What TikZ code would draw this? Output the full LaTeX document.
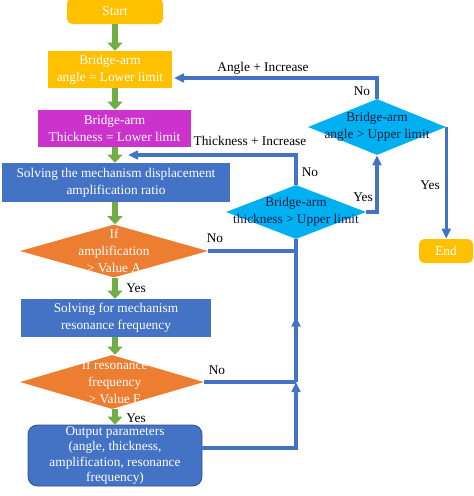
\documentclass[tikz,border=0pt]{standalone}
\usepackage{fontspec}
\setmainfont{Liberation Serif}
\usetikzlibrary{shapes.geometric,arrows.meta,calc}

\definecolor{startyellow}{HTML}{FFC000}
\definecolor{limitpink}{HTML}{CC33CC}
\definecolor{stepblue}{HTML}{4472C4}
\definecolor{testorange}{HTML}{ED7D31}
\definecolor{testcyan}{HTML}{00B0F0}
\definecolor{flowgreen}{HTML}{70AD47}
\definecolor{edgeblue}{HTML}{2F528F}
\definecolor{darktext}{RGB}{20,30,70}

\tikzset{
    base/.style={inner sep=0pt, align=center, font=\fontsize{10}{12.75}\selectfont},
    procbox/.style={base, rectangle, fill=#1, text=white},
    termbox/.style={procbox=#1, rounded corners=4pt},
    decbox/.style={diamond, fill=#1, inner sep=0pt},
    dectext/.style={base, text=#1},
    lbl/.style={base, text=black},
    flow/.style={draw=flowgreen, line width=5pt, -{Triangle[width=11pt,length=6pt]}},
    link/.style={draw=stepblue, line width=2.5pt},
    conn/.style={link, -{Triangle[length=7.5pt,width=6.5pt]}},
}

\begin{document}
\begin{tikzpicture}[x=0.75pt, y=-0.75pt]
    \useasboundingbox (0,0) rectangle (474,496);

    % main column
    \node[termbox=startyellow, minimum width=72pt, minimum height=19.5pt] (start) at (115,11) {Start};
    \node[procbox=startyellow, minimum width=93pt, minimum height=27.75pt] (lowang) at (110,69.5) {Bridge-arm\\angle = Lower limit};
    \node[procbox=limitpink, minimum width=114.75pt, minimum height=27.75pt] (lowthk) at (114.5,128.5) {Bridge-arm\\Thickness = Lower limit};
    \node[procbox=stepblue, minimum width=171pt, minimum height=29.25pt] (solamp) at (116,182.5) {Solving the mechanism displacement\\amplification ratio};
    \node[decbox=testorange, minimum width=141pt, minimum height=39.75pt,
          label={[dectext=white]center:{If\\amplification\\> Value A}}] (ifamp) at (114,251) {};
    \node[procbox=stepblue, minimum width=142.5pt, minimum height=28.5pt] (solres) at (116,318) {Solving for mechanism\\resonance frequency};
    \node[decbox=testorange, minimum width=138pt, minimum height=40.5pt,
          label={[dectext=white, xshift=2pt]center:{If resonance\\frequency\\> Value F}}] (ifres) at (112,382) {};
    \node[termbox=stepblue, draw=edgeblue, line width=0.6pt, rounded corners=7pt,
          font=\fontsize{10}{11.7}\selectfont,
          minimum width=130.5pt, minimum height=45.75pt] (output) at (115,455.5)
          {Output parameters\\(angle, thickness,\\amplification, resonance\\frequency)};

    % limit checks
    \node[decbox=testcyan, minimum width=105pt, minimum height=40.5pt,
          label={[dectext=darktext]center:{Bridge-arm\\thickness > Upper limit}}] (upthk) at (296,212) {};
    \node[decbox=testcyan, minimum width=103.5pt, minimum height=42pt,
          label={[dectext=darktext]center:{Bridge-arm\\angle > Upper limit}}] (upang) at (377,127) {};
    \node[termbox=startyellow, minimum width=40.5pt, minimum height=18pt] (finish) at (446,251) {End};

    % green flow down the column
    \coordinate (spine) at (115,0);
    \draw[flow] (start.south) -- (spine |- lowang.north);
    \draw[flow] (spine |- lowang.south) -- (spine |- lowthk.north);
    \draw[flow] (spine |- lowthk.south) -- (spine |- solamp.north);
    \draw[flow] (spine |- solamp.south) -- (ifamp.north -| spine);
    \draw[flow] (ifamp.south -| spine) -- (spine |- solres.north);
    \draw[flow] (spine |- solres.south) -- (ifres.north -| spine);
    \draw[flow] (ifres.south -| spine) -- (spine |- output.north);

    % blue return loops
    \coordinate (jamp) at (upthk.south |- ifamp.east);
    \coordinate (jres) at (upthk.south |- ifres.east);
    \coordinate (jmid) at ($(jamp)!0.5!(jres)$);
    \coordinate (outR) at (201,448);
    \coordinate (thkin) at (128,155);
    \coordinate (angin) at (174,78);
    \draw[link] (ifamp.east) -- (jamp);
    \draw[link] (ifres.east) -- (jres);
    \draw[link] (jres) -- (upthk.south);
    \draw[conn] (outR) -| (jres);
    \draw[conn] (jres) -- (jmid);
    \draw[conn] (upthk.north) |- (thkin);
    \draw[conn] (upthk.east) -| (upang.south);
    \draw[conn] (upang.north) |- (angin);
    \draw[conn] (upang.east) -- (upang.east |- finish.north);

    % branch labels
    \node[lbl] (noamp) at (215,238) {No};
    \node[lbl] (yesamp) at (136,288) {Yes};
    \node[lbl] (nores) at (217,370) {No};
    \node[lbl] (yesres) at (136,418) {Yes};
    \node[lbl] (nothk) at (310,172) {No};
    \node[lbl] (yesthk) at (363,197) {Yes};
    \node[lbl] (noang) at (362,91) {No};
    \node[lbl] (yesang) at (430,185) {Yes};
    \node[lbl] (incang) at (263,68) {Angle + Increase};
    \node[lbl] (incthk) at (250,141) {Thickness + Increase};
\end{tikzpicture}
\end{document}
